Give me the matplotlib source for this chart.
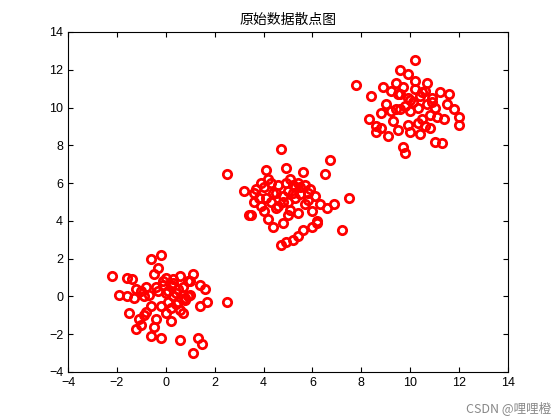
import matplotlib.pyplot as plt

plt.rcParams['font.family'] = ['Liberation Sans', 'Noto Sans CJK SC', 'DejaVu Sans']

# cluster around (0, 0)
x1 = [-2.2, -1.9, -1.6, -1.4, -1.5, -1.2, -1.0, -0.9, -0.8, -0.6, -0.6, -0.5, -0.3, -0.2, -0.1, 0.0,
      0.1, 0.2, 0.3, 0.4, 0.5, 0.6, 0.7, 0.8, 0.9, 1.0, 1.1, 1.4, 1.6, 1.4, 1.7, 2.5, 1.1, 1.3, 1.5,
      0.6, -0.2, -0.6, -1.0, -1.2, -0.9, -0.4, 0.0, 0.2, 0.4, 0.6, 0.8, -1.6, -1.3, -0.7, 0.1, 0.3,
      -0.3, -0.1, 0.5, 0.9, 0.2, -0.5, -0.8, 0.0, 0.3, -0.2, 0.7, 1.0, -1.1, -0.4]
y1 = [1.1, 0.1, 1.0, 0.9, -0.9, 0.4, 0.3, 0.0, 0.5, 2.0, -0.5, 1.2, 1.5, 2.2, 0.8, 1.0,
      0.3, 0.6, 0.9, 0.2, -0.3, 1.1, 0.5, -0.1, 0.8, 0.1, 1.2, 0.6, 0.4, -0.5, -0.3, -0.3, -3.0, -2.2, -2.5,
      -2.3, -2.2, -2.1, -1.5, -1.7, -1.0, -1.2, -0.9, -0.6, -0.4, -0.7, -0.2, 0.0, -0.1, 0.1, -0.3, 0.0,
      0.3, 0.6, 0.4, 0.0, -1.3, -1.6, -0.8, 0.2, 0.7, -0.5, -0.9, 0.8, -1.2, 0.5]

# cluster around (5, 5)
x2 = [2.5, 3.2, 3.4, 3.5, 3.6, 3.8, 3.9, 4.0, 4.1, 4.2, 4.3, 4.4, 4.5, 4.6, 4.7, 4.8, 4.9, 5.0,
      5.1, 5.2, 5.3, 5.4, 5.5, 5.6, 5.7, 5.8, 6.0, 6.2, 6.5, 6.7, 6.9, 7.2, 7.5, 4.7, 4.9, 5.2,
      4.8, 5.0, 5.4, 5.6, 6.0, 6.2, 4.2, 4.4, 4.6, 5.0, 5.3, 5.8, 6.3, 4.0, 3.6, 3.7, 4.3, 5.1,
      5.5, 5.9, 6.1, 6.6, 4.5, 4.9, 5.7, 3.9, 4.1, 5.2, 5.4, 4.8]
y2 = [6.5, 5.6, 4.3, 4.3, 5.5, 5.2, 6.0, 5.8, 6.7, 6.2, 5.0, 5.5, 4.7, 5.9, 7.8, 5.3, 6.8, 5.6,
      4.6, 5.9, 5.2, 4.4, 5.8, 6.6, 4.9, 5.5, 3.7, 3.9, 6.5, 7.2, 4.9, 3.5, 5.2, 2.7, 2.9, 3.0,
      3.9, 4.3, 3.2, 3.5, 4.5, 4.0, 4.1, 3.7, 4.8, 5.0, 5.8, 5.1, 4.9, 4.5, 5.0, 5.7, 6.0, 6.2,
      5.4, 5.7, 5.3, 4.7, 5.5, 6.0, 5.9, 4.8, 5.2, 5.5, 6.0, 5.0]

# cluster around (10, 10)
x3 = [7.8, 8.4, 8.6, 8.9, 9.0, 9.2, 9.3, 9.4, 9.5, 9.6, 9.7, 9.8, 9.9, 10.0, 10.1, 10.2, 10.3,
      10.4, 10.5, 10.6, 10.7, 10.8, 10.9, 11.0, 11.2, 11.4, 11.6, 11.8, 12.0, 12.0, 10.2, 9.6,
      9.7, 9.8, 8.6, 8.3, 8.8, 9.1, 9.5, 10.0, 10.4, 10.8, 11.0, 11.3, 9.9, 10.3, 10.6, 11.1,
      9.4, 10.0, 10.5, 9.6, 10.9, 11.5, 9.9, 10.2, 10.7, 9.2, 8.8]
y3 = [11.2, 10.6, 9.0, 11.1, 10.2, 9.8, 9.3, 11.3, 10.7, 9.9, 11.1, 10.1, 10.5, 9.8, 10.3, 12.5,
      10.0, 10.6, 9.4, 10.9, 10.2, 9.6, 10.5, 10.0, 10.8, 9.4, 10.7, 9.9, 9.5, 9.1, 11.4, 12.0,
      7.9, 7.6, 8.7, 9.4, 8.9, 8.5, 8.8, 8.7, 8.6, 8.9, 8.2, 8.1, 9.1, 9.2, 9.0, 9.5, 9.9,
      10.4, 10.8, 10.7, 10.3, 10.2, 11.8, 11.0, 11.3, 10.9, 9.7]

fig = plt.figure(figsize=(5.6, 4.2), dpi=100)
ax = fig.add_axes([68/560, 48/420, 440/560, 340/420])
for xs, ys in [(x1, y1), (x2, y2), (x3, y3)]:
    ax.plot(xs, ys, 'o', mfc='none', mec='red', mew=2, ms=6)
ax.set_xlim(-4, 14)
ax.set_ylim(-4, 14)
ax.set_xticks(range(-4, 15, 2))
ax.set_yticks(range(-4, 15, 2))
ax.tick_params(direction='in', labelsize=9, top=True, right=True)
ax.set_title('原始数据散点图', fontsize=10, family=['Noto Sans CJK SC', 'DejaVu Sans'])
fig.text(0.985, 0.012, 'CSDN @哩哩橙', ha='right', va='bottom', fontsize=9, color='#888888',
         family=['Noto Sans CJK SC', 'DejaVu Sans'])
fig.savefig('out.png')
